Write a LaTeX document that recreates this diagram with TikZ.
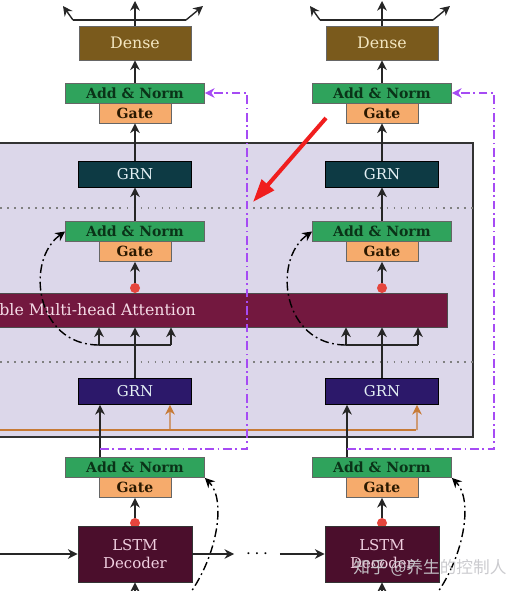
\documentclass[tikz,border=0pt]{standalone}
\usepackage{fontspec}
\setmainfont{DejaVu Serif}
\newfontfamily\cjkfont{Noto Sans CJK SC}
\usetikzlibrary{arrows.meta}
\definecolor{densebrown}{HTML}{7A5A1C}
\definecolor{densetext}{HTML}{F3E6C0}
\definecolor{normgreen}{HTML}{2FA35C}
\definecolor{normtext}{HTML}{0A3318}
\definecolor{gatepeach}{HTML}{F6AB6C}
\definecolor{gatetext}{HTML}{2A1800}
\definecolor{grnteal}{HTML}{0D3A44}
\definecolor{grnindigo}{HTML}{2C186A}
\definecolor{grntext}{HTML}{E4F0F4}
\definecolor{attplum}{HTML}{73183F}
\definecolor{atttext}{HTML}{F4DBE6}
\definecolor{lstmwine}{HTML}{4B0E2C}
\definecolor{lstmtext}{HTML}{F0CFE0}
\definecolor{boxlilac}{HTML}{DCD7EA}
\definecolor{skipviolet}{HTML}{A64BF4}
\definecolor{staticcopper}{HTML}{C77A35}
\definecolor{dotred}{HTML}{E5453D}
\definecolor{markred}{HTML}{F01E1E}
\definecolor{marktext}{HTML}{C8C8CC}

\begin{document}
\begin{tikzpicture}[x=0.02cm, y=-0.02cm, font=\fontsize{8.5}{10.5}\selectfont,
    tip/.style={-{Stealth[length=5.5pt, width=5.5pt]}},
    link/.style={tip, line width=0.8pt, black!85},
    wire/.style={line width=0.8pt, black!85},
    dashdot/.style={line width=0.8pt, dash pattern=on 5pt off 2pt on 1pt off 2pt},
    block/.style={draw=black!60, line width=0.5pt, inner sep=0pt, minimum width=#1},
    dense/.style={block=2.24cm, minimum height=0.68cm, fill=densebrown, text=densetext, font=\fontsize{9}{11}\selectfont},
    addnorm/.style={block=2.78cm, minimum height=0.40cm, fill=normgreen, text=normtext, font=\fontsize{8}{9.5}\selectfont\bfseries},
    gate/.style={block=1.44cm, minimum height=0.40cm, fill=gatepeach, text=gatetext, font=\fontsize{8}{9.5}\selectfont\bfseries},
    grn/.style={block=2.26cm, minimum height=0.52cm, draw=black, fill=#1, text=grntext},
    lstm/.style={block=2.28cm, minimum height=1.12cm, draw=black!80, fill=lstmwine, text=lstmtext, align=center},
    dot/.style={circle, fill=dotred, minimum size=0.2cm, inner sep=0pt}]
    \useasboundingbox (0,0) rectangle (515,591);
    \clip (0,0) rectangle (515,591);
    \draw[fill=boxlilac, draw=black!80, line width=0.8pt] (-5,143) rectangle (473,437);
    \draw[gray, line width=0.9pt, dash pattern=on 1pt off 3pt] (0,208) -- (473,208);
    \draw[gray, line width=0.9pt, dash pattern=on 1pt off 3pt] (0,362) -- (473,362);
    \node[block=9.04cm, minimum height=0.68cm, draw=black!70, fill=attplum] (att) at (221,310) {};
    \node[anchor=west, text=atttext, inner sep=0pt, font=\fontsize{9}{11}\selectfont] (attlabel) at (-1,310) {ble Multi-head Attention};
    \draw[line width=0.9pt, staticcopper] (-5,430) -- (416,430);
    \foreach \c/\x in {a/135, b/382} {
        \node[dense] (dense\c) at (\x,43) {Dense};
        \node[addnorm] (anA\c) at (\x,93) {Add \& Norm};
        \node[gate] (gateA\c) at (\x,113) {Gate};
        \node[grn=grnteal] (grnA\c) at (\x,174) {GRN};
        \node[addnorm] (anB\c) at (\x,231.5) {Add \& Norm};
        \node[gate] (gateB\c) at (\x,251.5) {Gate};
        \node[dot] (dotB\c) at (\x,288) {};
        \node[grn=grnindigo] (grnB\c) at (\x,391.5) {GRN};
        \node[addnorm] (anC\c) at (\x,467.5) {Add \& Norm};
        \node[gate] (gateC\c) at (\x,487.5) {Gate};
        \node[dot] (dotC\c) at (\x,523) {};
        \node[lstm] (lstm\c) at (\x,554) {LSTM\\Decoder};
        \coordinate (out\c) at (\x,1);
        \coordinate (splitL\c) at (\x-62,20);
        \coordinate (splitR\c) at (\x+51,20);
        \coordinate (outL\c) at (\x-72,6);
        \coordinate (outR\c) at (\x+68,6);
        \coordinate (fanL\c) at (\x-36,345);
        \coordinate (fanR\c) at (\x+36,345);
        \coordinate (skipS\c) at (\x-35,449);
        \coordinate (skipE\c) at (\x+112,449);
        \coordinate (skipN\c) at (\x+112,93);
        \coordinate (static\c) at (\x+35,430);
        \coordinate (in\c) at (\x,600);
        \coordinate (res\c) at (\x+50,600);
        \draw[link] (dense\c) -- (out\c);
        \draw[wire] (splitL\c) -- (splitR\c);
        \draw[link] (splitL\c) -- (outL\c);
        \draw[link] (splitR\c) -- (outR\c);
        \draw[link] (anA\c) -- (dense\c);
        \draw[link] (grnA\c) -- (gateA\c);
        \draw[link] (anB\c) -- (grnA\c);
        \draw[link] (dotB\c) -- (gateB\c);
        \draw[link] (grnB\c) -- (grnB\c |- att.south);
        \draw[wire] (fanL\c) -- (fanR\c);
        \draw[link] (fanL\c) -- (fanL\c |- att.south);
        \draw[link] (fanR\c) -- (fanR\c |- att.south);
        \draw[dashdot, tip] (fanL\c) .. controls (\x-100,345) and (\x-110,260) .. (anB\c.west);
        \draw[link] ([xshift=-0.7cm]anC\c.north) -- ([xshift=-0.7cm]grnB\c.south);
        \draw[link, staticcopper] (static\c) -- ([xshift=0.7cm]grnB\c.south);
        \draw[dashdot, skipviolet, tip] (skipS\c) -- (skipE\c) -- (skipN\c) -- (anA\c);
        \draw[link] (dotC\c) -- (gateC\c);
        \draw[link] (in\c) -- (lstm\c);
        \draw[dashdot, tip] (res\c) .. controls (\x+82,560) and (\x+92,500) .. (anC\c.south east);
    }
    \coordinate (seq) at (-5,554);
    \node[minimum width=0.9cm, inner sep=0pt, font=\fontsize{11}{12}\selectfont] (etc) at (257,554) {$\cdots$};
    \draw[link] (seq) -- (lstma);
    \draw[link] (lstma) -- (etc);
    \draw[link] (etc) -- (lstmb);
    \coordinate (markS) at (326,118);
    \coordinate (markE) at (253,202);
    \draw[markred, line width=2.3pt, -{Triangle[length=13pt, width=9pt]}] (markS) -- (markE);
    \node[text=marktext, opacity=0.95, font=\cjkfont\fontsize{9.5}{11}\selectfont] (mark) at (430,568) {知乎 @养生的控制人};
\end{tikzpicture}
\end{document}
